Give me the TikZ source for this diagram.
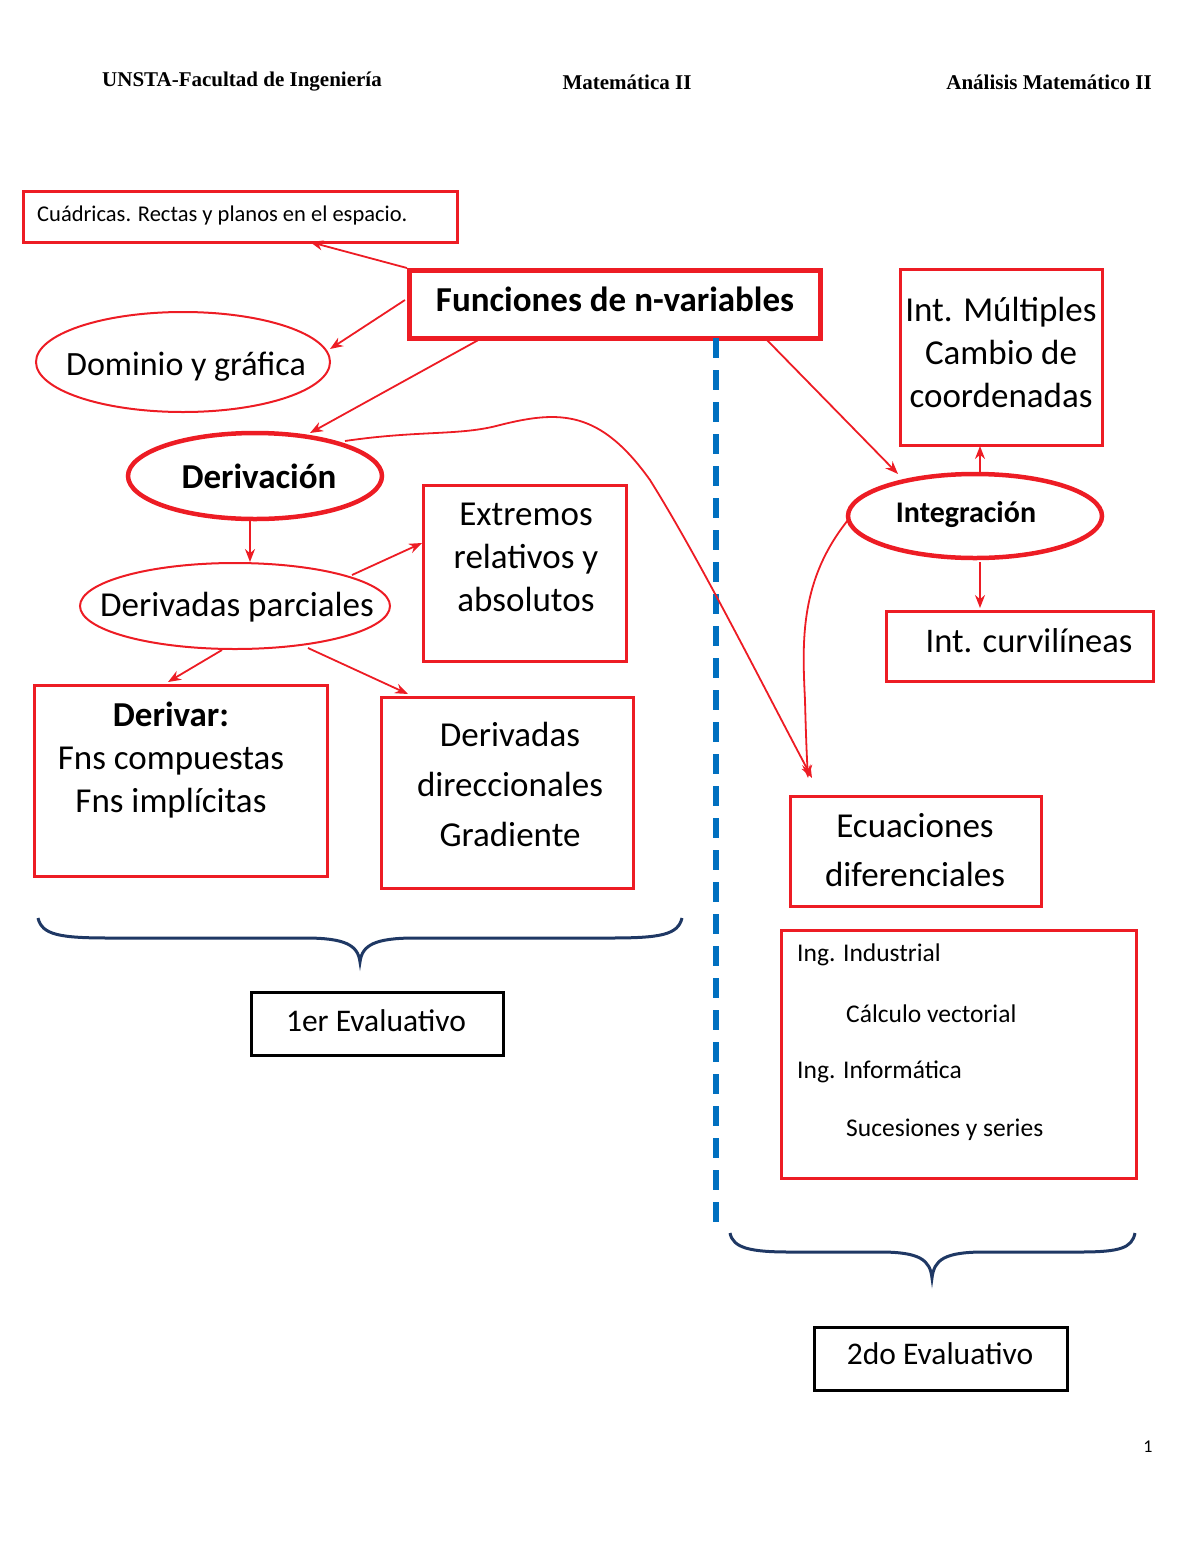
\documentclass[tikz,border=0pt]{standalone}
\usepackage{fontspec}
\setmainfont{Carlito}
\newfontfamily\hdr{Liberation Serif}
\usetikzlibrary{shapes.geometric,arrows.meta}
\definecolor{rd}{RGB}{237,28,36}
\definecolor{nv}{RGB}{31,56,100}
\definecolor{bl}{RGB}{0,112,192}
\newcommand{\fs}[1]{\fontsize{#1}{1.2\dimexpr #1pt\relax}\selectfont}
\tikzset{
 box/.style={draw=rd,line width=2.5pt,rectangle,anchor=north west,inner sep=0pt},
 ell/.style={draw=rd,line width=2pt},
 thk/.style={line width=4.5pt},
 arr/.style={draw=rd,line width=1.8pt,-{Stealth[length=13pt,width=10pt]}},
 brace/.style={draw=nv,line width=3pt},
 bbox/.style={draw=black,line width=2.5pt,rectangle,anchor=north west,inner sep=0pt},
 txt/.style={align=center,inner sep=0pt},
 ml/.style={align=center,inner sep=0pt,font={\fontsize{35}{#1}\selectfont}}
}
\begin{document}
\begin{tikzpicture}[x=1pt,y=-1pt]
\useasboundingbox (0,0) rectangle (1200,1553);
% header
\node[inner sep=0] (h1) at (242,82) {\hdr\bfseries\fs{21}UNSTA-Facultad de Ingeniería};
\node[inner sep=0] (h2) at (627,82) {\hdr\bfseries\fs{21}Matemática II};
\node[inner sep=0] (h3) at (1049,82) {\hdr\bfseries\fs{21}Análisis Matemático II};
\node[inner sep=0] (pg) at (1148,1447) {\fs{18}1};
% boxes
\node[box,minimum width=434pt,minimum height=51pt] (cua) at (22,190) {};
\node[anchor=west,inner sep=0] (cuat) at (37,215) {\fs{22.5}Cuádricas. Rectas y planos en el espacio.};
\node[box,thk,minimum width=411pt,minimum height=68pt] (fun) at (407,268) {};
\node[txt] (funt) at (615,299) {\fs{35}\bfseries Funciones de n-variables};
\draw[ell] (183,362) ellipse [x radius=147pt, y radius=50pt];
\node[txt] (dom) at (186,367) {\fs{34}Dominio y gráfica};
\draw[ell,thk] (255,476) ellipse [x radius=127pt, y radius=43pt];
\node[txt] (der) at (259,476) {\fs{35}\bfseries Derivación};
\draw[ell] (235,606) ellipse [x radius=155pt, y radius=43pt];
\node[txt] (dp) at (237,607) {\fs{35}Derivadas parciales};
\node[box,minimum width=203pt,minimum height=176pt] (ext) at (422,484) {};
\node[ml=43pt] (extt) at (526,557) {Extremos\\relativos y\\absolutos};
\node[box,minimum width=293pt,minimum height=191pt] (dvr) at (33,684) {};
\node[ml=43pt] (dvrt) at (171,760) {\textbf{Derivar:}\\Fns compuestas\\Fns implícitas};
\node[box,minimum width=252pt,minimum height=191pt] (dd) at (380,696) {};
\node[ml=50pt] (ddt) at (510,784) {Derivadas\\direccionales\\Gradiente};
\node[box,minimum width=202pt,minimum height=176pt] (im) at (899,268) {};
\node[ml=43pt] (imt) at (1001,352) {Int. Múltiples\\Cambio de\\coordenadas};
\draw[ell,thk] (975,516) ellipse [x radius=127pt, y radius=42pt];
\node[txt] (int) at (966,515) {\fs{30}\bfseries Integración};
\node[box,minimum width=267pt,minimum height=70pt] (ic) at (885,610) {};
\node[txt] (ict) at (1029,641) {\fs{34.5}Int. curvilíneas};
\node[box,minimum width=251pt,minimum height=110pt] (ed) at (789,795) {};
\node[ml=49pt] (edt) at (915,850) {Ecuaciones\\diferenciales};
\node[box,minimum width=355pt,minimum height=248pt] (ing) at (780,929) {};
\node[anchor=west,inner sep=0] (i1) at (797,955) {\fs{25.5}Ing. Industrial};
\node[anchor=west,inner sep=0] (i2) at (846,1014) {\fs{25.5}Cálculo vectorial};
\node[anchor=west,inner sep=0] (i3) at (797,1072) {\fs{25.5}Ing. Informática};
\node[anchor=west,inner sep=0] (i4) at (846,1130) {\fs{25.5}Sucesiones y series};
\node[bbox,minimum width=252pt,minimum height=63pt] (e1) at (250,991) {};
\node[txt] (e1t) at (376,1021) {\fs{31.5}1er Evaluativo};
\node[bbox,minimum width=253pt,minimum height=63pt] (e2) at (813,1326) {};
\node[txt] (e2t) at (940,1354) {\fs{31.5}2do Evaluativo};
% dashed line
\coordinate (d1) at (716,338); \coordinate (d2) at (716,1226);
\draw[draw=bl,line width=6pt,dash pattern=on 20pt off 12pt] (d1) -- (d2);
% braces
\draw[brace] (38,918) .. controls (42,935) and (60,938) .. (110,938) -- (305,938) .. controls (345,938) and (358,945) .. (360,962) .. controls (362,945) and (375,938) .. (415,938) -- (610,938) .. controls (660,938) and (678,935) .. (682,918);
\draw[brace] (730,1233) .. controls (733,1248) and (750,1252) .. (790,1252) -- (880,1252) .. controls (920,1252) and (930,1260) .. (932,1278) .. controls (934,1260) and (944,1252) .. (984,1252) -- (1080,1252) .. controls (1120,1252) and (1132,1248) .. (1135,1233);
% arrows
\draw[arr] (fun.north west) -- (310,242);
\draw[arr] (405,300) -- (330,349);
\draw[arr] (482,338) -- (310,433);
\draw[arr] (250,520) -- (250,562);
\draw[arr] (352,575) -- (422,543);
\draw[arr] (222,650) -- (168,682);
\draw[arr] (308,648) -- (408,694);
\draw[arr] (765,338) -- (898,474);
\draw[arr] (980,474) -- (980,446);
\draw[arr] (980,562) -- (980,608);
\draw[arr] (345,441) .. controls (420,430) and (460,436) .. (500,425) .. controls (560,410) and (600,410) .. (650,480) .. controls (700,560) and (760,680) .. (812,778);
\draw[arr] (848,520) .. controls (800,580) and (802,640) .. (805,700) .. controls (806,740) and (807,760) .. (808,778);
\end{tikzpicture}
\end{document}
